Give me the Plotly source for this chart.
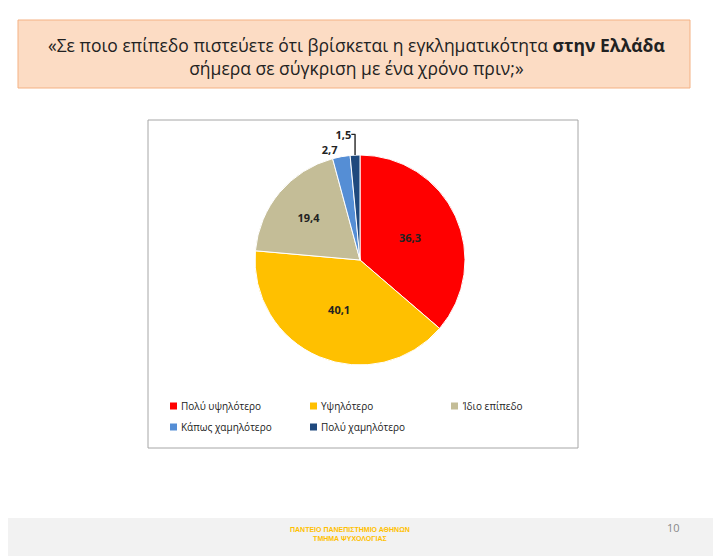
import plotly.graph_objects as go

labels = ["Πολύ υψηλότερο", "Υψηλότερο", "Ίδιο επίπεδο", "Κάπως χαμηλότερο", "Πολύ χαμηλότερο"]
values = [36.3, 40.1, 19.4, 2.7, 1.5]
colors = ["#ff0000", "#ffc000", "#c4bd97", "#558ed5", "#1f497d"]
text_labels = ["<b>36,3</b>", "<b>40,1</b>", "<b>19,4</b>", "<b>2,7</b>", "<b>1,5</b>"]

W, H = 721, 556
OFF = 8
def px(x): return (x - OFF) / W
def py(y): return 1 - (y - OFF) / H

fig = go.Figure(go.Pie(
    labels=labels, values=values, sort=False, direction="clockwise", rotation=0,
    marker=dict(colors=colors, line=dict(color="white", width=1)),
    text=text_labels, textinfo="text",
    textposition=["inside", "inside", "inside", "outside", "outside"],
    insidetextorientation="horizontal",
    textfont=dict(family="Open Sans", size=11, color="#222"),
    outsidetextfont=dict(family="Open Sans", size=11, color="#222"),
    domain=dict(x=[px(250), px(470)], y=[py(365), py(155)]),
    hoverinfo="label+value", showlegend=False,
))

shapes = [
    dict(type="rect", xref="paper", yref="paper", x0=-0.05, x1=1.05, y0=-0.05, y1=py(518),
         fillcolor="#f2f2f2", line=dict(width=0), layer="below"),
    dict(type="rect", xref="paper", yref="paper", x0=px(18), x1=px(690), y0=py(88), y1=py(20),
         fillcolor="#fcdcc4", line=dict(color="#f4b183", width=1), layer="below"),
    dict(type="rect", xref="paper", yref="paper", x0=px(148), x1=px(578), y0=py(448), y1=py(120),
         fillcolor="white", line=dict(color="#a6a6a6", width=1), layer="below"),
]

annotations = [
    dict(text="«Σε ποιο επίπεδο πιστεύετε ότι βρίσκεται η εγκληματικότητα <b>στην Ελλάδα</b><br>σήμερα σε σύγκριση με ένα χρόνο πριν;»",
         xref="paper", yref="paper", x=px(356), y=py(56), xanchor="center", yanchor="middle", showarrow=False,
         font=dict(family="Open Sans", size=17.5, color="#222"), align="center"),
    dict(text="<b>ΠΑΝΤΕΙΟ ΠΑΝΕΠΙΣΤΗΜΙΟ ΑΘΗΝΩΝ<br>ΤΜΗΜΑ ΨΥΧΟΛΟΓΙΑΣ</b>",
         xref="paper", yref="paper", x=px(350), y=py(534), xanchor="center", yanchor="middle", showarrow=False,
         font=dict(family="Liberation Sans Narrow, Arial", size=7, color="#ffc000"), align="center"),
    dict(text="10", xref="paper", yref="paper", x=px(673), y=py(527), xanchor="center", yanchor="middle", showarrow=False,
         font=dict(family="Open Sans", size=11, color="#888")),
]

# manual legend, 3 columns
col_x = [170, 310, 451]
row_y = [406, 427]
for i, (lab, c) in enumerate(zip(labels, colors)):
    x = col_x[i % 3]; y = row_y[i // 3]
    shapes.append(dict(type="rect", xref="paper", yref="paper",
                       x0=px(x), x1=px(x + 7), y0=py(y + 3.5), y1=py(y - 3.5),
                       fillcolor=c, line=dict(width=0)))
    annotations.append(dict(text=lab, xref="paper", yref="paper", x=px(x + 9), y=py(y),
                            xanchor="left", yanchor="middle", showarrow=False,
                            font=dict(family="Open Sans", size=10, color="#222")))

fig.update_layout(
    width=W, height=H, margin=dict(l=0, r=0, t=0, b=0),
    paper_bgcolor="white", plot_bgcolor="white",
    shapes=shapes, annotations=annotations, showlegend=False,
)
fig.write_html("out.html")
